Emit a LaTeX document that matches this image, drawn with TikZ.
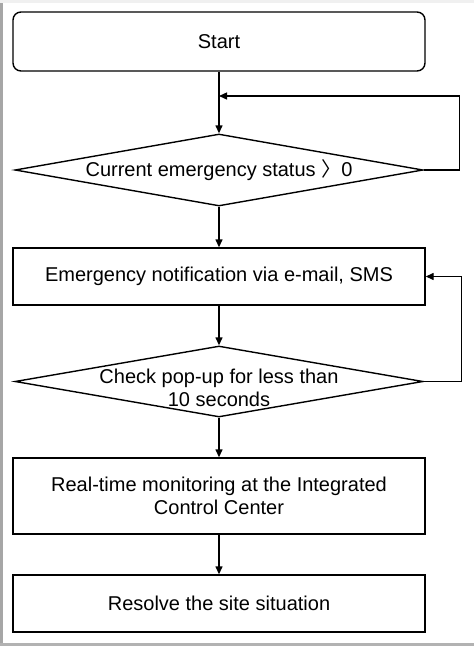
\documentclass[tikz,border=0pt]{standalone}
\usepackage{fontspec}
\setmainfont{Liberation Sans}
\newfontfamily\cjkfont{Noto Sans CJK KR}
\usetikzlibrary{shapes.geometric,arrows.meta}
\begin{document}
\begin{tikzpicture}[x=1pt,y=-1pt,
  every node/.style={font=\fontsize{20}{23}\selectfont, align=center},
  box/.style={draw=black, line width=1.4pt, minimum width=412pt, inner sep=0pt},
  rbox/.style={box, rounded corners=8pt},
  dec/.style={draw=black, line width=1.4pt, diamond, minimum width=408pt, inner sep=0pt},
  lbl/.style={inner sep=0pt},
  flow/.style={draw=black, line width=1.4pt, -{Triangle[length=8pt,width=7pt]}}
]
\useasboundingbox (0,0) rectangle (474,646);
\fill[white] (0,0) rectangle (474,646);
\fill[gray!70] (0,0) rectangle (3,646);
\fill[gray!12] (0,0) rectangle (474,2.5);
\fill[gray!60] (0,643) rectangle (474,646);

\node[rbox, minimum height=59pt] (start) at (219,41.5) {Start};
\node[dec, minimum height=72pt] (d1) at (219,170) {};
\node[lbl] (d1t) at (d1.center) {Current emergency status {\cjkfont 〉}0};
\node[box, minimum height=57pt] (b2) at (219,276.5) {Emergency notification via e-mail, SMS};
\node[dec, minimum height=71pt] (d2) at (219,381.5) {};
\node[lbl] (d2t) at (219,388) {Check pop-up for less than\\10 seconds};
\node[box, minimum height=76pt] (b3) at (219,496) {Real-time monitoring at the Integrated\\Control Center};
\node[box, minimum height=57pt] (b4) at (219,603.5) {Resolve the site situation};

\coordinate (j1) at (219,96);
\draw[flow] (start.south) -- (d1.north);
\draw[flow] (d1.east) -- ++(36,0) |- (j1);
\draw[flow] (d1.south) -- (b2.north);
\draw[flow] (b2.south) -- (d2.north);
\draw[flow] (d2.east) -- ++(38,0) |- (b2.east);
\draw[flow] (d2.south) -- (b3.north);
\draw[flow] (b3.south) -- (b4.north);
\end{tikzpicture}
\end{document}
